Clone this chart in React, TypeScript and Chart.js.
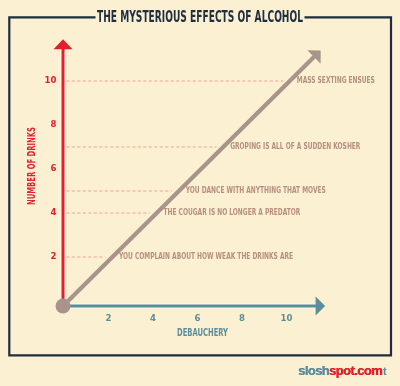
import React, { useEffect, useRef } from 'react';
import { Chart, registerables } from 'chart.js';

Chart.register(...registerables);

// ---- data ----
const TITLE = 'THE MYSTERIOUS EFFECTS OF ALCOHOL';
const X_TITLE = 'DEBAUCHERY';
const Y_TITLE = 'NUMBER OF DRINKS';
const X_TICKS = [2, 4, 6, 8, 10];
const Y_TICKS = [2, 4, 6, 8, 10];
const LEVELS = [2, 4, 5, 7, 10];
const LEVEL_LABELS = [
  'YOU COMPLAIN ABOUT HOW WEAK THE DRINKS ARE',
  'THE COUGAR IS NO LONGER A PREDATOR',
  'YOU DANCE WITH ANYTHING THAT MOVES',
  'GROPING IS ALL OF A SUDDEN KOSHER',
  'MASS SEXTING ENSUES',
];
const TREND_X = [-0.05, 11.35];
const TREND_Y = [-0.227, 11.2];
const LOGO_PARTS = ['slosh', 'spot.com'];

// ---- style ----
const BG = '#fbf0d1';
const NAVY = '#1e2d40';
const RED = '#e21f2b';
const TEAL = '#5a8e9b';
const TAUPE = '#a8948a';
const LABEL_COLOR = '#b68f80';
const DASH_COLOR = '#f0a28e';
const NARROW = "'Liberation Sans Narrow', 'Arial Narrow', 'DejaVu Sans Condensed', sans-serif";
const X_RANGE = [-0.05, 12.5];
const Y_RANGE = [-0.227, 12.5];
const AXIS_TIP_X = 11.74;
const AXIS_TIP_Y = 11.9;
const TITLE_WIDTH = 206;
const X_TITLE_WIDTH = 51;
const Y_TITLE_WIDTH = 78;
const LABEL_REF_WIDTH = 78; // width of the last level label in the reference

function condensedText(ctx: any, text: string, x: number, y: number, font: string, color: string, targetWidth: number | null, scale: number, rotate: number, align: CanvasTextAlign) {
  ctx.save();
  ctx.font = font;
  const w = ctx.measureText(text).width;
  const sx = targetWidth ? targetWidth / w : scale;
  ctx.translate(x, y);
  if (rotate) ctx.rotate(rotate);
  ctx.scale(sx, 1);
  ctx.fillStyle = color;
  ctx.textAlign = align;
  ctx.textBaseline = 'middle';
  ctx.fillText(text, 0, 0);
  ctx.restore();
}

const decor = {
  id: 'decor',
  beforeDraw(chart: any) {
    const { ctx, width, height } = chart;
    ctx.save();
    ctx.fillStyle = BG;
    ctx.fillRect(0, 0, width, height);

    const cx = 200;
    condensedText(ctx, TITLE, cx, 18, `bold 15px ${NARROW}`, NAVY, TITLE_WIDTH, 1, 0, 'center');

    // frame
    const l = 9.3, r = 391, t = 17.3, b = 355.3;
    const g0 = cx - TITLE_WIDTH / 2 - 1.5, g1 = cx + TITLE_WIDTH / 2 + 1.5;
    ctx.strokeStyle = NAVY;
    ctx.lineWidth = 2.2;
    ctx.beginPath();
    ctx.moveTo(g0, t);
    ctx.lineTo(l, t);
    ctx.lineTo(l, b);
    ctx.lineTo(r, b);
    ctx.lineTo(r, t);
    ctx.lineTo(g1, t);
    ctx.stroke();
    ctx.restore();
  },
  beforeDatasetsDraw(chart: any) {
    const { ctx, scales, chartArea } = chart;
    const xs = scales.x, ys = scales.y;
    const ox = xs.getPixelForValue(X_RANGE[0]);
    const oy = ys.getPixelForValue(Y_RANGE[0]);
    const ty = ys.getPixelForValue(AXIS_TIP_Y);
    const tx = xs.getPixelForValue(AXIS_TIP_X);
    ctx.save();
    // axis titles (condensed)
    condensedText(ctx, Y_TITLE, chartArea.left - 31, (chartArea.top + chartArea.bottom) / 2,
      `bold 11px ${NARROW}`, RED, Y_TITLE_WIDTH, 1, -Math.PI / 2, 'center');
    condensedText(ctx, X_TITLE, (chartArea.left + chartArea.right) / 2, chartArea.bottom + 27,
      `bold 11px ${NARROW}`, TEAL, X_TITLE_WIDTH, 1, 0, 'center');
    // halos
    ctx.strokeStyle = '#fff8ea';
    ctx.lineWidth = 5;
    ctx.beginPath();
    ctx.moveTo(ox, oy); ctx.lineTo(ox, ty + 9);
    ctx.moveTo(ox, oy); ctx.lineTo(tx - 8, oy);
    ctx.stroke();
    // y axis
    ctx.strokeStyle = RED;
    ctx.lineWidth = 3;
    ctx.beginPath();
    ctx.moveTo(ox, oy); ctx.lineTo(ox, ty + 9);
    ctx.stroke();
    ctx.fillStyle = RED;
    ctx.beginPath();
    ctx.moveTo(ox, ty);
    ctx.lineTo(ox + 9.5, ty + 10);
    ctx.lineTo(ox - 9.5, ty + 10);
    ctx.closePath();
    ctx.fill();
    // x axis
    ctx.strokeStyle = TEAL;
    ctx.beginPath();
    ctx.moveTo(ox, oy); ctx.lineTo(tx - 8, oy);
    ctx.stroke();
    ctx.fillStyle = TEAL;
    ctx.beginPath();
    ctx.moveTo(tx, oy);
    ctx.lineTo(tx - 9.5, oy - 9.5);
    ctx.lineTo(tx - 9.5, oy + 9.5);
    ctx.closePath();
    ctx.fill();
    ctx.restore();
  },
  afterDatasetsDraw(chart: any) {
    const { ctx, scales } = chart;
    const xs = scales.x, ys = scales.y;
    ctx.save();
    // trend arrowhead
    const x0 = xs.getPixelForValue(TREND_X[0]), y0 = ys.getPixelForValue(TREND_Y[0]);
    const x1 = xs.getPixelForValue(TREND_X[1]), y1 = ys.getPixelForValue(TREND_Y[1]);
    const len = Math.hypot(x1 - x0, y1 - y0);
    const dx = (x1 - x0) / len, dy = (y1 - y0) / len;
    const px = -dy, py = dx;
    const tipX = x1 + dx * 6, tipY = y1 + dy * 6;
    const d = 9.4;
    ctx.fillStyle = TAUPE;
    ctx.beginPath();
    ctx.moveTo(tipX, tipY);
    ctx.lineTo(tipX - dx * d + px * d, tipY - dy * d + py * d);
    ctx.lineTo(tipX - dx * d - px * d, tipY - dy * d - py * d);
    ctx.closePath();
    ctx.fill();

    // level labels, uniformly condensed
    const labelFont = `bold 8.6px ${NARROW}`;
    ctx.font = labelFont;
    const k = LABEL_REF_WIDTH / ctx.measureText(LEVEL_LABELS[LEVEL_LABELS.length - 1]).width;
    LEVELS.forEach((lvl, i) => {
      condensedText(ctx, LEVEL_LABELS[i], xs.getPixelForValue(lvl + 0.47), ys.getPixelForValue(lvl),
        labelFont, LABEL_COLOR, null, k, 0, 'left');
    });

    // logo
    ctx.font = "bold 13px 'Liberation Sans', Arial, sans-serif";
    (ctx as any).letterSpacing = '-0.6px';
    ctx.textAlign = 'left';
    ctx.textBaseline = 'alphabetic';
    let lx = 298;
    const colors = [TEAL, RED];
    LOGO_PARTS.forEach((p, i) => {
      ctx.fillStyle = colors[i];
      ctx.fillText(p, lx, 375);
      ctx.fillText(p, lx + 0.4, 375);
      lx += ctx.measureText(p).width;
    });
    ctx.font = "bold 11px 'Liberation Sans', Arial, sans-serif";
    ctx.fillStyle = TEAL;
    ctx.fillText('t', lx + 1, 375);
    ctx.restore();
  },
};

export default function App() {
  const ref = useRef<HTMLCanvasElement>(null);
  useEffect(() => {
    document.body.style.margin = '0';
    const canvas = ref.current!;
    const datasets: any[] = [
      {
        data: TREND_X.map((x, i) => ({ x, y: TREND_Y[i] })),
        borderColor: TAUPE,
        backgroundColor: TAUPE,
        borderWidth: 4.2,
        pointRadius: [7.5, 0],
        pointBorderWidth: 0,
        pointBackgroundColor: TAUPE,
        clip: false,
        showLine: true,
      },
      ...LEVELS.map((lvl) => ({
        data: [
          { x: 0.1, y: lvl },
          { x: lvl - 0.15, y: lvl },
        ],
        borderColor: DASH_COLOR,
        borderWidth: 1,
        borderDash: [3, 2.5],
        pointRadius: 0,
        showLine: true,
      })),
    ];
    const chart = new Chart(canvas, {
      type: 'scatter',
      data: { datasets },
      plugins: [decor],
      options: {
        animation: false,
        responsive: false,
        devicePixelRatio: 1,
        events: [],
        layout: { padding: { top: 26, right: 58, bottom: 40, left: 0 } },
        plugins: { legend: { display: false }, tooltip: { enabled: false }, title: { display: false } },
        scales: {
          x: {
            type: 'linear',
            min: X_RANGE[0],
            max: X_RANGE[1],
            afterBuildTicks: (s: any) => { s.ticks = X_TICKS.map((v) => ({ value: v })); },
            afterFit: (s: any) => { s.height = 40; },
            grid: { display: false, drawTicks: false },
            border: { display: false },
            ticks: { color: TEAL, padding: 6.5, font: { family: NARROW, weight: 'bold', size: 9.5 } },
          },
          y: {
            type: 'linear',
            min: Y_RANGE[0],
            max: Y_RANGE[1],
            afterBuildTicks: (s: any) => { s.ticks = Y_TICKS.map((v) => ({ value: v })); },
            afterFit: (s: any) => { s.width = 63; },
            grid: { display: false, drawTicks: false },
            border: { display: false },
            ticks: { color: RED, padding: 6.5, font: { family: NARROW, weight: 'bold', size: 9.5 } },
          },
        },
      } as any,
    });
    return () => chart.destroy();
  }, []);
  return (
    <div style={{ width: 400, height: 386 }}>
      <canvas ref={ref} width={400} height={386} style={{ display: 'block' }} />
    </div>
  );
}
